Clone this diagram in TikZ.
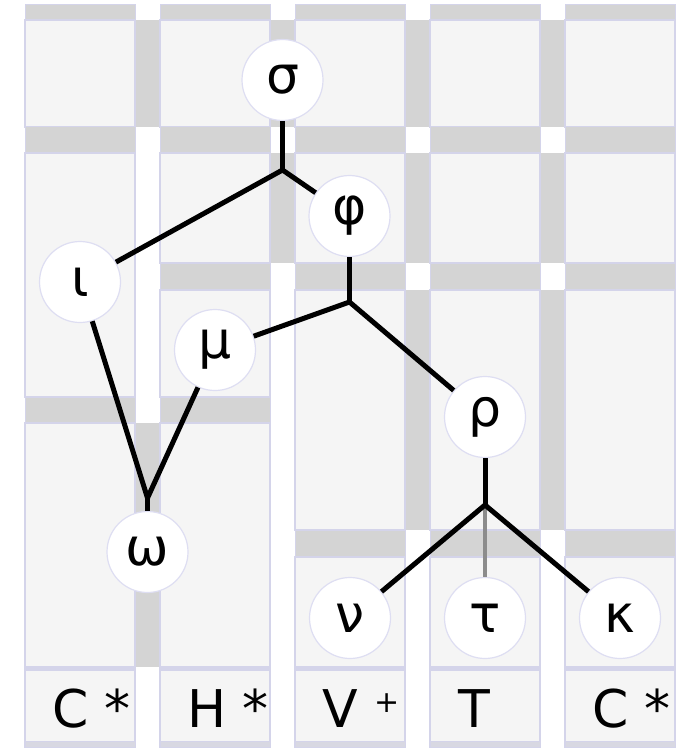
\documentclass[tikz,border=0pt]{standalone}
\usepackage{fontspec}
\setmainfont{DejaVu Sans}
\definecolor{barc}{RGB}{212,212,212}
\definecolor{panelc}{RGB}{245,245,245}
\definecolor{edgec}{RGB}{212,212,234}
\definecolor{circc}{RGB}{222,222,242}
\definecolor{tauc}{RGB}{140,140,140}
\definecolor{footc}{RGB}{216,216,226}
\tikzset{
  panel/.style={fill=panelc, draw=edgec, line width=1.2pt},
  bar/.style={fill=barc, draw=edgec, line width=1pt},
  gutter/.style={fill=barc},
  foot/.style={fill=footc, draw=edgec, line width=1pt},
  gnode/.style={circle, fill=white, draw=circc, line width=1.2pt, minimum size=81pt, inner sep=0pt, font=\fontsize{52}{60}\selectfont},
  link/.style={line width=5pt, black, line join=miter},
  lbl/.style={anchor=base west, inner sep=0pt, font=\fontsize{52}{60}\selectfont}
}
\begin{document}
\begin{tikzpicture}[x=1pt,y=-1pt]
\useasboundingbox (0,0) rectangle (700,754);
% gutters
\foreach \g in {135,270,405,540} \fill[barc] (\g,20) rectangle ++(25,107);
\foreach \g in {270,405,540} \fill[barc] (\g,153) rectangle ++(25,110);
\foreach \g in {405,540} \fill[barc] (\g,290) rectangle ++(25,240);
\fill[barc] (135,423) rectangle ++(25,244);
% top level (all columns)
\foreach \L in {25,160,295,430,565} {
  \draw[panel] (\L,20) rectangle ++(110,107);
  \draw[bar] (\L,5) rectangle ++(110,15);
  \draw[bar] (\L,127) rectangle ++(110,26);
}
% column 1
\draw[panel] (25,153) rectangle (135,397);
\draw[bar] (25,397) rectangle (135,423);
\draw[panel] (25,423) rectangle (135,667);
% column 2
\draw[panel] (160,153) rectangle (270,263);
\draw[bar] (160,263) rectangle (270,290);
\draw[panel] (160,290) rectangle (270,397);
\draw[bar] (160,397) rectangle (270,423);
\draw[panel] (160,423) rectangle (270,667);
% columns 3-5
\foreach \L in {295,430,565} {
  \draw[panel] (\L,153) rectangle ++(110,110);
  \draw[bar] (\L,263) rectangle ++(110,27);
  \draw[panel] (\L,290) rectangle ++(110,240);
  \draw[bar] (\L,530) rectangle ++(110,27);
  \draw[panel] (\L,557) rectangle ++(110,110);
}
% label boxes
\foreach \L in {25,160,295,430,565} {
  \draw[panel] (\L,668) rectangle ++(110,79);
  \draw[foot] (\L,741) rectangle ++(110,6);
  \draw[edgec, line width=2pt] (\L,669.5) -- ++(110,0);
}
% nodes
\node[gnode] (s) at (282.5,80) {σ};
\node[gnode] (f) at (349.5,216) {φ};
\node[gnode] (i) at (80,282) {ι};
\node[gnode] (m) at (215,350) {μ};
\node[gnode] (r) at (485,417) {ρ};
\node[gnode] (w) at (147.5,552) {ω};
\node[gnode] (n) at (350,618) {ν};
\node[gnode] (t) at (485,618) {τ};
\node[gnode] (k) at (620,618) {κ};
% junctions
\coordinate (j1) at (282.5,170);
\coordinate (j2) at (349.5,302);
\coordinate (j3) at (147.5,498);
\coordinate (j4) at (485,505);
% links
\draw[link] (s) -- (j1);
\draw[link] (i) -- (j1) -- (f);
\draw[link] (f) -- (j2);
\draw[link] (m) -- (j2) -- (r);
\draw[link] (i) -- (j3) -- (m);
\draw[link] (j3) -- (w);
\draw[link] (r) -- (j4);
\draw[line width=4.5pt, tauc] (j4) -- (t);
\draw[link] (n) -- (j4) -- (k);
% labels
\node[lbl] (l1) at (52,727) {C *};
\node[lbl] (l2) at (187,727) {H *};
\node[lbl] (l3) at (322,727) {V \raisebox{15pt}{\fontsize{30}{30}\selectfont +}};
\node[lbl] (l4) at (458,727) {T};
\node[lbl] (l5) at (592,727) {C *};
\end{tikzpicture}
\end{document}
